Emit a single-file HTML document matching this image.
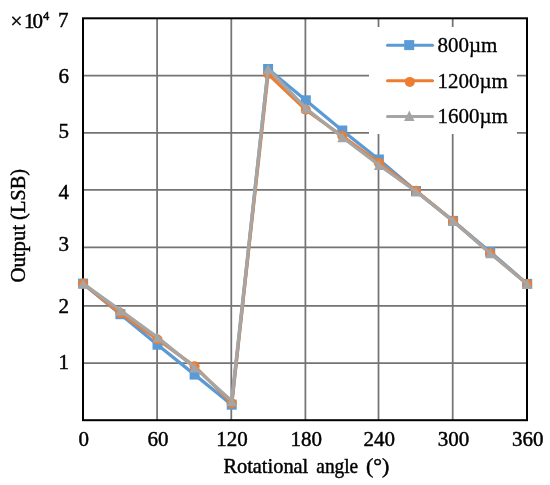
<!DOCTYPE html>
<html><head><meta charset="utf-8"><style>
html,body{margin:0;padding:0;background:#fff;width:550px;height:485px;overflow:hidden}
svg{display:block}
text{font-family:"Liberation Serif","Times New Roman",serif;font-size:21px;fill:#000;stroke:#000;stroke-width:0.45px}
</style></head><body>
<svg width="550" height="485" viewBox="0 0 550 485">
<rect width="550" height="485" fill="#fff"/>
<path d="M157.1,18.3V420.2M231.3,18.3V420.2M305.4,18.3V420.2M378.5,18.3V420.2M452.7,18.3V420.2M83.0,363.0H527.0M83.0,305.9H527.0M83.0,247.4H527.0M83.0,189.9H527.0M83.0,132.8H527.0M83.0,75.7H527.0" stroke="#747474" stroke-width="1.75" fill="none"/>
<rect x="83.0" y="18.3" width="444.0" height="401.9" fill="none" stroke="#000" stroke-width="2"/>
<polyline points="83.1,283.6 120.4,314.2 157.5,344.7 194.6,374.6 231.7,404.7 268.1,69.0 305.8,100.3 342.3,130.5 378.9,159.5 416.0,191.0 453.1,220.9 490.2,251.9 527.2,283.9" fill="none" stroke="#5B9BD5" stroke-width="3.3" stroke-linejoin="round" stroke-linecap="round"/>
<rect x="78.1" y="278.6" width="10" height="10" fill="#5B9BD5"/>
<rect x="115.4" y="309.2" width="10" height="10" fill="#5B9BD5"/>
<rect x="152.5" y="339.7" width="10" height="10" fill="#5B9BD5"/>
<rect x="189.6" y="369.6" width="10" height="10" fill="#5B9BD5"/>
<rect x="226.7" y="399.7" width="10" height="10" fill="#5B9BD5"/>
<rect x="263.1" y="64.0" width="10" height="10" fill="#5B9BD5"/>
<rect x="300.8" y="95.3" width="10" height="10" fill="#5B9BD5"/>
<rect x="337.3" y="125.5" width="10" height="10" fill="#5B9BD5"/>
<rect x="373.9" y="154.5" width="10" height="10" fill="#5B9BD5"/>
<rect x="411.0" y="186.0" width="10" height="10" fill="#5B9BD5"/>
<rect x="448.1" y="215.9" width="10" height="10" fill="#5B9BD5"/>
<rect x="485.2" y="246.9" width="10" height="10" fill="#5B9BD5"/>
<rect x="522.2" y="278.9" width="10" height="10" fill="#5B9BD5"/>
<polyline points="83.1,283.6 120.4,313.1 157.5,339.5 194.6,366.2 231.7,403.2 268.1,74.0 305.8,109.8 342.3,136.0 378.9,162.9 416.0,190.8 453.1,220.9 490.2,253.1 527.2,283.9" fill="none" stroke="#ED7D31" stroke-width="3.3" stroke-linejoin="round" stroke-linecap="round"/>
<circle cx="83.1" cy="283.6" r="5" fill="#ED7D31"/>
<circle cx="120.4" cy="313.1" r="5" fill="#ED7D31"/>
<circle cx="157.5" cy="339.5" r="5" fill="#ED7D31"/>
<circle cx="194.6" cy="366.2" r="5" fill="#ED7D31"/>
<circle cx="231.7" cy="403.2" r="5" fill="#ED7D31"/>
<circle cx="268.1" cy="74.0" r="5" fill="#ED7D31"/>
<circle cx="305.8" cy="109.8" r="5" fill="#ED7D31"/>
<circle cx="342.3" cy="136.0" r="5" fill="#ED7D31"/>
<circle cx="378.9" cy="162.9" r="5" fill="#ED7D31"/>
<circle cx="416.0" cy="190.8" r="5" fill="#ED7D31"/>
<circle cx="453.1" cy="220.9" r="5" fill="#ED7D31"/>
<circle cx="490.2" cy="253.1" r="5" fill="#ED7D31"/>
<circle cx="527.2" cy="283.9" r="5" fill="#ED7D31"/>
<polyline points="83.1,283.6 120.4,310.4 157.5,337.4 194.6,367.4 231.7,401.0 268.1,69.0 305.8,108.2 342.3,137.2 378.9,165.0 416.0,191.5 453.1,220.9 490.2,253.3 527.2,283.9" fill="none" stroke="#A5A5A5" stroke-width="3.3" stroke-linejoin="round" stroke-linecap="round"/>
<path d="M83.1,278.6L88.1,288.6L78.1,288.6Z" fill="#A5A5A5"/>
<path d="M120.4,305.4L125.4,315.4L115.4,315.4Z" fill="#A5A5A5"/>
<path d="M157.5,332.4L162.5,342.4L152.5,342.4Z" fill="#A5A5A5"/>
<path d="M194.6,362.4L199.6,372.4L189.6,372.4Z" fill="#A5A5A5"/>
<path d="M231.7,396.0L236.7,406.0L226.7,406.0Z" fill="#A5A5A5"/>
<path d="M268.1,64.0L273.1,74.0L263.1,74.0Z" fill="#A5A5A5"/>
<path d="M305.8,103.2L310.8,113.2L300.8,113.2Z" fill="#A5A5A5"/>
<path d="M342.3,132.2L347.3,142.2L337.3,142.2Z" fill="#A5A5A5"/>
<path d="M378.9,160.0L383.9,170.0L373.9,170.0Z" fill="#A5A5A5"/>
<path d="M416.0,186.5L421.0,196.5L411.0,196.5Z" fill="#A5A5A5"/>
<path d="M453.1,215.9L458.1,225.9L448.1,225.9Z" fill="#A5A5A5"/>
<path d="M490.2,248.3L495.2,258.3L485.2,258.3Z" fill="#A5A5A5"/>
<path d="M527.2,278.9L532.2,288.9L522.2,288.9Z" fill="#A5A5A5"/>
<rect x="369" y="27" width="148" height="107" fill="#fff"/>
<path d="M387.5,45.35H432.5" stroke="#5B9BD5" stroke-width="3" stroke-linecap="round"/>
<rect x="404.2" y="40.1" width="10" height="10" fill="#5B9BD5"/>
<text x="437.5" y="52.4" style="stroke-width:0.3px">800µm</text>
<path d="M387.5,80.8H432.5" stroke="#ED7D31" stroke-width="3" stroke-linecap="round"/>
<circle cx="409.8" cy="81.9" r="5" fill="#ED7D31"/>
<text x="437.5" y="87.8" style="stroke-width:0.3px">1200µm</text>
<path d="M387.5,116.4H432.5" stroke="#A5A5A5" stroke-width="3" stroke-linecap="round"/>
<path d="M409.3,110.5L414.6,121.1L404.0,121.1Z" fill="#A5A5A5"/>
<text x="437.5" y="123.4" style="stroke-width:0.3px">1600µm</text>
<text x="69" y="369.0" text-anchor="end">1</text>
<text x="69" y="312.9" text-anchor="end">2</text>
<text x="69" y="251.4" text-anchor="end">3</text>
<text x="69" y="198.9" text-anchor="end">4</text>
<text x="69" y="137.8" text-anchor="end">5</text>
<text x="69" y="83.3" text-anchor="end">6</text>
<text x="68.4" y="26.7" text-anchor="end">7</text>
<text x="83.7" y="446" text-anchor="middle">0</text>
<text x="157.9" y="446" text-anchor="middle">60</text>
<text x="232.1" y="446" text-anchor="middle">120</text>
<text x="306.2" y="446" text-anchor="middle">180</text>
<text x="379.3" y="446" text-anchor="middle">240</text>
<text x="453.5" y="446" text-anchor="middle">300</text>
<text x="527.8" y="446" text-anchor="middle">360</text>
<text y="27.6"><tspan x="10.6">×</tspan><tspan x="23.9">1</tspan><tspan x="32.4">0</tspan><tspan x="42.9" y="20.1" font-size="12.5">4</tspan></text>
<text y="473"><tspan x="223.4" textLength="84.9" lengthAdjust="spacingAndGlyphs">Rotational</tspan> <tspan x="316.3" textLength="41.9" lengthAdjust="spacingAndGlyphs">angle</tspan> <tspan x="365.9" textLength="23.4" lengthAdjust="spacingAndGlyphs">(°)</tspan></text>
<text transform="translate(25.3,0) rotate(-90)"><tspan x="-282.6" textLength="57.8" lengthAdjust="spacingAndGlyphs">Output</tspan> <tspan x="-219.9" textLength="51.0" lengthAdjust="spacingAndGlyphs">(LSB)</tspan></text>
</svg>
</body></html>
